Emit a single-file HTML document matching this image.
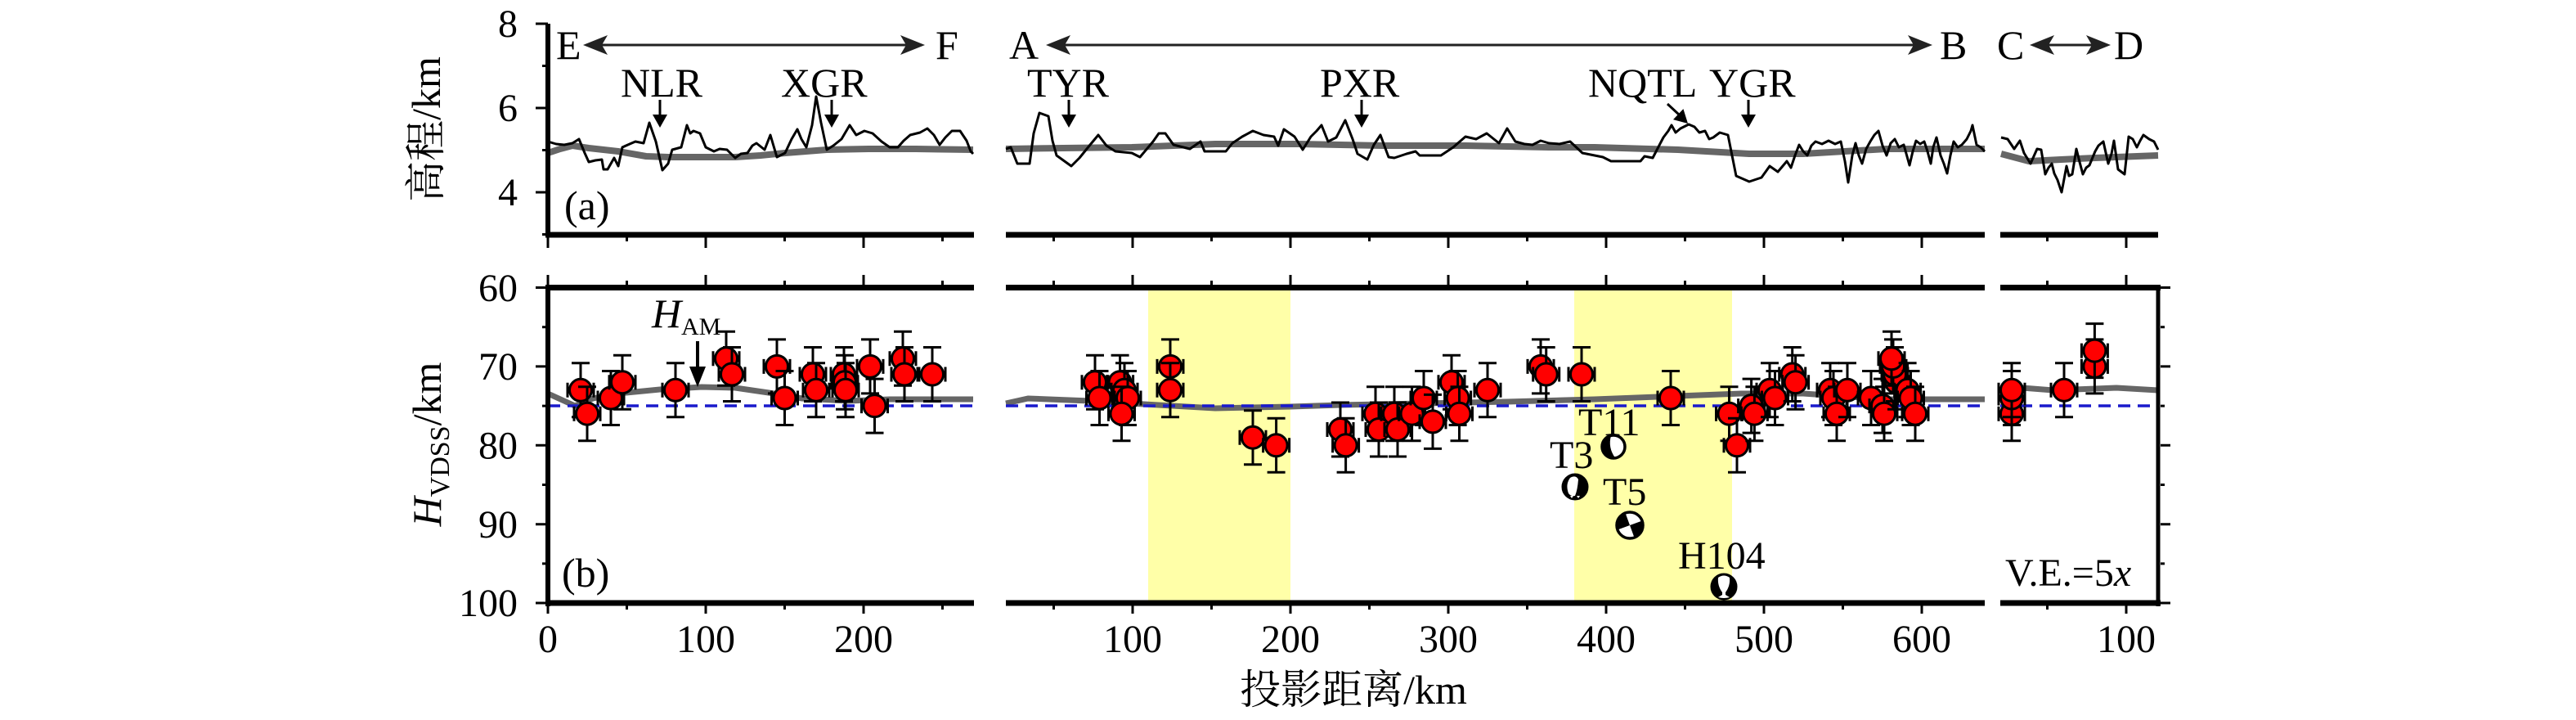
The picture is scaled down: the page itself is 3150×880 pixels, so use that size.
<!DOCTYPE html>
<html>
<head>
<meta charset="utf-8">
<style>
html,body{margin:0;padding:0;background:#fff;}
svg{display:block;}
</style>
</head>
<body>
<svg xmlns="http://www.w3.org/2000/svg" width="3150" height="880" viewBox="0 0 3150 880" font-family="'Liberation Serif','Noto Serif CJK SC',serif">
<defs>
<marker id="m" markerUnits="userSpaceOnUse" markerWidth="40" markerHeight="80" refX="0" refY="0" orient="0" overflow="visible">
<path d="M0,-33V33M-11,-33H11M-11,33H11M-16,0H16M-16,-9V9M16,-9V9" stroke="#000" stroke-width="3" fill="none"/>
<circle r="13.5" fill="#ff0000" stroke="#000" stroke-width="3"/>
</marker>
</defs>
<rect width="3150" height="880" fill="#fff"/>

<g fill="none" stroke="#666" stroke-width="8" stroke-linejoin="round">
<polyline points="670,187 685,182 700,178 720,181 756,185 790,191 817,192 860,192 899,192 930,190 960,187 1011,183 1062,182 1120,182 1190,183"/>
<polyline points="1230,182 1300,181 1384,180 1486,176 1588,176 1690,178 1792,178 1894,180 1950,180 2052,183 2139,188 2205,188 2307,182 2427,182"/>
<polyline points="2447,188 2481,197 2520,195 2562,193 2639,190"/>
</g>
<g fill="none" stroke="#000" stroke-width="3" stroke-linejoin="round">
<polyline points="670,173 680,176 690,177 700,175 708,170 715,187 720,198 728,196 736,195 738,207 743,207 747,200 751,193 756,203 761,180 770,176 777,173 787,175 794,150 802,173 810,208 817,200 822,183 833,180 840,153 844,163 848,160 856,163 863,180 873,185 880,182 889,183 899,193 906,188 914,187 920,178 925,175 935,183 942,165 950,192 960,187 968,170 975,158 980,170 986,180 993,153 998,118 1004,150 1011,183 1019,178 1029,170 1039,153 1047,165 1057,160 1067,163 1078,173 1088,180 1098,180 1105,172 1113,165 1125,162 1134,157 1142,165 1149,177 1156,168 1164,160 1174,160 1182,172 1187,185 1190,188"/>
<polyline points="1230,182 1236,180 1244,200 1259,200 1264,163 1271,138 1282,142 1287,172 1292,190 1310,203 1320,193 1333,177 1343,165 1353,178 1364,185 1384,187 1394,192 1410,173 1417,163 1425,163 1435,177 1455,182 1468,173 1473,185 1499,185 1507,175 1519,167 1532,160 1545,165 1558,167 1563,178 1570,158 1583,167 1593,183 1603,167 1610,160 1616,153 1624,173 1634,168 1645,147 1654,170 1660,188 1672,195 1680,177 1688,165 1698,192 1705,193 1720,188 1731,185 1736,190 1762,190 1777,180 1792,167 1805,170 1818,163 1833,175 1843,157 1853,173 1864,176 1874,177 1884,172 1894,175 1907,176 1920,173 1935,187 1950,190 1960,192 1970,197 2006,197 2011,191 2021,193 2034,168 2040,160 2044,153 2049,162 2055,157 2065,152 2072,155 2078,162 2085,160 2090,170 2095,168 2103,162 2113,165 2118,190 2123,215 2139,222 2154,217 2164,203 2174,210 2185,197 2190,205 2195,190 2200,177 2205,185 2210,190 2215,178 2220,173 2228,176 2236,172 2244,176 2251,173 2256,197 2260,223 2265,190 2269,175 2273,190 2277,200 2282,182 2287,173 2292,165 2297,160 2302,178 2307,190 2312,175 2317,170 2322,180 2328,177 2335,202 2339,185 2343,172 2348,176 2353,173 2357,185 2361,200 2364,180 2368,168 2373,190 2377,200 2381,212 2385,190 2389,173 2394,180 2399,177 2405,170 2410,160 2412,153 2417,177 2422,180 2427,185"/>
<polyline points="2447,168 2455,170 2463,182 2470,172 2475,187 2483,200 2491,182 2496,183 2501,213 2505,205 2509,200 2512,212 2516,220 2521,235 2527,203 2530,215 2534,213 2539,182 2543,198 2547,213 2551,205 2555,202 2562,185 2566,178 2572,173 2578,200 2582,188 2585,172 2590,207 2594,210 2598,213 2603,167 2608,170 2613,180 2617,172 2621,165 2628,170 2634,173 2639,183"/>
</g>

<g stroke="#000" fill="none">
<line x1="670" y1="29" x2="670" y2="290" stroke-width="6"/>
<line x1="667" y1="287" x2="1191" y2="287" stroke-width="7"/>
<line x1="1230" y1="287" x2="2427" y2="287" stroke-width="7"/>
<line x1="2446" y1="287" x2="2639" y2="287" stroke-width="7"/>
<path stroke-width="3" d="M655,29H670M663,80.5H670M655,132H670M663,183.5H670M655,235H670M663,286.5H670"/>
<path stroke-width="3" d="M670,290V303M863,290V303M1056,290V303M766.5,290V295M959.5,290V295M1152.5,290V295M1385,290V303M1578,290V303M1771,290V303M1964,290V303M2157,290V303M2350,290V303M1288.5,290V295M1481.5,290V295M1674.5,290V295M1867.5,290V295M2060.5,290V295M2253.5,290V295M2600,290V303M2503.5,290V295"/>
</g>

<g font-size="48" text-anchor="end" fill="#000">
<text x="633" y="45">8</text>
<text x="633" y="148">6</text>
<text x="633" y="251">4</text>
</g>
<text transform="translate(538,158) rotate(-90)" text-anchor="middle" font-size="50" fill="#000">高程/km</text>
<text x="690" y="268" font-size="50" fill="#000">(a)</text>

<g fill="#222" stroke="none">
<polygon points="713,55 743,43 736,55 743,67"/>
<polygon points="1131,55 1101,43 1108,55 1101,67"/>
<polygon points="1279,55 1309,43 1302,55 1309,67"/>
<polygon points="2363,55 2333,43 2340,55 2333,67"/>
<polygon points="2482,55 2512,43 2505,55 2512,67"/>
<polygon points="2581,55 2551,43 2558,55 2551,67"/>
</g>
<path d="M735,55H1109M1301,55H2341M2504,55H2559" stroke="#222" stroke-width="3"/>
<g font-size="50" fill="#000">
<text x="680" y="72">E</text>
<text x="1144" y="72">F</text>
<text x="1234" y="72">A</text>
<text x="2372" y="72">B</text>
<text x="2442" y="72">C</text>
<text x="2585" y="72">D</text>
<text x="759" y="118">NLR</text>
<text x="955" y="118">XGR</text>
<text x="1256" y="118">TYR</text>
<text x="1614" y="118">PXR</text>
<text x="1942" y="118">NQTL</text>
<text x="2090" y="118">YGR</text>
</g>
<path d="M807,122V142M1017,122V142M1307,122V142M1665,122V142M2138,122V142M2039,127L2053,140" stroke="#000" stroke-width="3"/>
<path d="M798,140H816L807,156ZM1008,140H1026L1017,156ZM1298,140H1316L1307,156ZM1656,140H1674L1665,156ZM2129,140H2147L2138,156ZM2046,146.1L2058.4,133.1L2064,151Z" fill="#000"/>

<rect x="1404" y="351.5" width="174" height="385.5" fill="#ffffa8"/>
<rect x="1925" y="351.5" width="193" height="385.5" fill="#ffffa8"/>

<g fill="none" stroke="#666" stroke-width="7" stroke-linejoin="round">
<polyline points="670,481 703,496 725,487 756,481 807,476 858,473 899,474 940,480 981,487 1037,490 1088,488 1190,488"/>
<polyline points="1230,493 1257,487 1333,490 1399,494 1486,499 1578,497 1639,495 1741,493 1843,491 1950,488 2052,484 2129,481 2205,481 2307,488 2427,488"/>
<polyline points="2447,472 2511,477 2588,474 2639,477"/>
</g>
<path d="M670,496H1191M1230,496H2427M2446,496H2639" stroke="#1a1acc" stroke-width="3.5" stroke-dasharray="15,9"/>

<!-- data points drawn as markers on invisible polylines -->
<g fill="none" stroke="none" marker-start="url(#m)" marker-mid="url(#m)" marker-end="url(#m)">
<polyline points="710,476.8 718,505.7 747,486.5 761,467.2 826,476.8 888,438.3 895,457.5 950,447.9 959.5,486.5 994,457.5 998,476.8 1032,457.5 1033,467.2 1034,476.8 1064,447.9 1069.5,496.1 1104,438.3 1106,457.5 1140,457.5"/>
<polyline points="1339,467.2 1344.5,486.5 1369.6,467.2 1375,476.8 1379,486.5 1371.5,505.7 1431,447.9 1431,476.8 1532,534.7 1560.6,544.3 1639,525 1645.6,544.3 1682,505.7 1686,525 1705,505.7 1709,525 1726.6,505.7 1741,486.5 1752,515.4 1775,467.2 1782.6,486.5 1784.5,505.7 1819,476.8 1884,447.9 1890.7,457.5 1934,457.5 2043,486.5 2114.5,505.7 2124,544.3 2141.6,496.1 2145.4,505.7 2164,476.8 2170.5,486.5 2191.7,457.5 2195.6,467.2 2238,476.8 2242,486.5 2246,505.7 2259,476.8 2288,486.5 2302,496.1 2304,505.7 2319,467.2 2317,457.5 2315,447.9 2313,438.3 2332.6,476.8 2336.5,486.5 2342,505.7"/>
<polyline points="2460,505.7 2460,486.5 2460,476.8 2524,476.8 2561.4,447.9 2561.4,428.6"/>
</g>

<!-- focal mechanisms -->
<circle cx="1973" cy="546" r="14" fill="#fff" stroke="#000" stroke-width="3.5"/>
<path d="M1970,532.5 A13.5,13.5 0 0,0 1975,559.5 Q1966,547 1970,532.5Z" fill="#000"/>
<circle cx="1926" cy="595" r="15" fill="#000" stroke="#000" stroke-width="3"/>
<path d="M1920,584 Q1927,580 1930,586 Q1929,599 1926,606 Q1921,607 1918,603 Q1914,592 1920,584Z M1920,606 L1924,606 L1922,609Z M1928,606 L1932,606 L1930,609Z" fill="#fff"/>
<circle cx="1993" cy="642" r="16" fill="#fff" stroke="#000" stroke-width="3.5"/>
<path transform="rotate(-20 1993 642)" d="M1993,642 L1977,642 A16,16 0 0,1 1993,626 Z M1993,642 L2009,642 A16,16 0 0,1 1993,658 Z" fill="#000"/>
<circle cx="2108" cy="717" r="15" fill="#000" stroke="#000" stroke-width="3"/>
<path d="M2101,706 Q2108,701 2115,706 Q2116,716 2110,724 L2110,727 L2115,730 Q2108,732 2101,730 L2106,727 L2106,724 Q2100,716 2101,706Z" fill="#fff"/>

<g stroke="#000" fill="none">
<path stroke-width="6" d="M670,348V741"/>
<path stroke-width="5" d="M2639,348V741"/>
<path stroke-width="7" d="M667,351.5H1191M1230,351.5H2427M2446,351.5H2642M667,737H1191M1230,737H2427M2446,737H2642"/>
<path stroke-width="3" d="M655,351.5H667M663,399.7H667M655,447.9H667M663,496.1H667M655,544.3H667M663,592.5H667M655,640.7H667M663,688.9H667M655,737H667"/>
<path stroke-width="3" d="M2642,351.5H2654M2642,399.7H2647M2642,447.9H2654M2642,496.1H2647M2642,544.3H2654M2642,592.5H2647M2642,640.7H2654M2642,688.9H2647M2642,737H2654"/>
<path stroke-width="3" d="M670,348V336M863,348V336M1056,348V336M766.5,348V343M959.5,348V343M1152.5,348V343M1385,348V336M1578,348V336M1771,348V336M1964,348V336M2157,348V336M2350,348V336M1288.5,348V343M1481.5,348V343M1674.5,348V343M1867.5,348V343M2060.5,348V343M2253.5,348V343M2600,348V336M2503.5,348V343"/>
<path stroke-width="3" d="M670,740V750M863,740V750M1056,740V750M766.5,740V745M959.5,740V745M1152.5,740V745M1385,740V750M1578,740V750M1771,740V750M1964,740V750M2157,740V750M2350,740V750M1288.5,740V745M1481.5,740V745M1674.5,740V745M1867.5,740V745M2060.5,740V745M2253.5,740V745M2600,740V750M2503.5,740V745"/>
</g>

<g font-size="48" text-anchor="end" fill="#000">
<text x="633" y="368">60</text>
<text x="633" y="464">70</text>
<text x="633" y="560.5">80</text>
<text x="633" y="657">90</text>
<text x="633" y="753">100</text>
</g>
<g font-size="48" text-anchor="middle" fill="#000">
<text x="670" y="797">0</text>
<text x="863" y="797">100</text>
<text x="1056" y="797">200</text>
<text x="1385" y="797">100</text>
<text x="1578" y="797">200</text>
<text x="1771" y="797">300</text>
<text x="1964" y="797">400</text>
<text x="2157" y="797">500</text>
<text x="2350" y="797">600</text>
<text x="2600" y="797">100</text>
</g>
<text x="1655" y="860" font-size="50" text-anchor="middle" fill="#000">投影距离/km</text>
<text transform="translate(539,543) rotate(-90)" text-anchor="middle" font-size="50" fill="#000"><tspan font-style="italic">H</tspan><tspan font-size="34" dy="10">VDSS</tspan><tspan dy="-10">/km</tspan></text>
<text x="687" y="717" font-size="50" fill="#000">(b)</text>

<text x="797" y="400" font-size="50" font-style="italic" fill="#000">H</text>
<text x="833" y="409" font-size="30" fill="#000">AM</text>
<path d="M853,417V452" stroke="#000" stroke-width="4"/>
<path d="M843,448H863L853,473Z" fill="#000"/>

<g font-size="48" fill="#000">
<text x="1930" y="532">T11</text>
<text x="1895" y="572">T3</text>
<text x="1960" y="617">T5</text>
<text x="2052" y="695">H104</text>
<text x="2452" y="716">V.E.=5<tspan font-style="italic">x</tspan></text>
</g>
</svg>
</body>
</html>
